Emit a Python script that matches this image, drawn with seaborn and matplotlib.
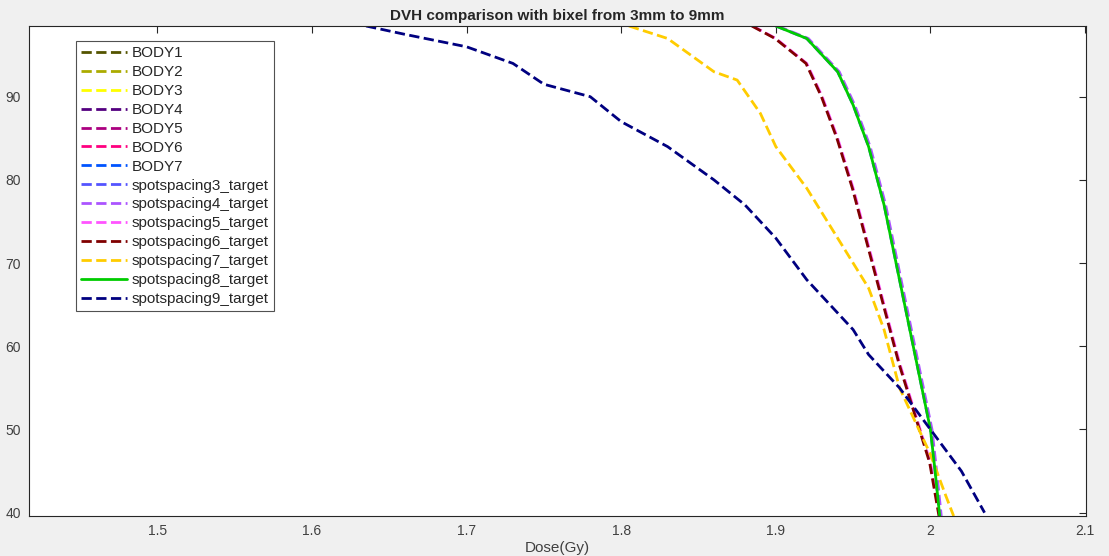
import matplotlib
matplotlib.use("Agg")
import matplotlib.pyplot as plt
import seaborn as sns
import pandas as pd

sns.set_style("white")
plt.rcParams['font.family'] = ['Liberation Sans', 'DejaVu Sans']

names = ["BODY1","BODY2","BODY3","BODY4","BODY5","BODY6","BODY7",
         "spotspacing3_target","spotspacing4_target","spotspacing5_target",
         "spotspacing6_target","spotspacing7_target","spotspacing8_target","spotspacing9_target"]
colors = [(0.33,0.33,0),(0.67,0.67,0),(1,1,0),(0.33,0,0.5),(0.67,0,0.5),(1,0,0.5),(0,0.33,1),
          (0.33,0.33,1),(0.67,0.33,1),(1,0.33,1),(0.5,0,0),(1,0.8,0),(0,0.8,0),(0,0,0.5)]

d_a = [1.90,1.92,1.94,1.95,1.96,1.97,1.98,1.99,2.0,2.003,2.006]
v_a = [98.5,97,93,89,84,77,68,59,50,45,39.6]
d_b = [1.885,1.90,1.92,1.93,1.94,1.95,1.96,1.97,1.98,1.99,2.0,2.006]
v_b = [98.5,97,94,90,85,79,72,65,58,52,46,39.6]
d_7 = [1.805,1.83,1.86,1.875,1.89,1.90,1.92,1.94,1.96,1.97,1.98,1.99,2.0,2.01,2.015]
v_7 = [98.5,97,93,92,88,84,79,73,67,62,55,51,47,42,39.6]
d_9 = [1.635,1.66,1.70,1.73,1.75,1.78,1.80,1.83,1.86,1.88,1.90,1.92,1.95,1.96,1.98,2.0,2.02,2.035]
v_9 = [98.5,97.5,96,94,91.5,90,87,84,80,77,73,68,62,59,55,50,45,40]

series = {n: ([], []) for n in names[:7]}
series["spotspacing3_target"] = (d_a, v_a)
series["spotspacing4_target"] = ([x + 0.001 for x in d_a], v_a)
series["spotspacing5_target"] = (d_b, v_b)
series["spotspacing6_target"] = ([x - 0.0005 for x in d_b], v_b)
series["spotspacing7_target"] = (d_7, v_7)
series["spotspacing8_target"] = (d_a, v_a)
series["spotspacing9_target"] = (d_9, v_9)

fig = plt.figure(figsize=(11.09, 5.56), dpi=100, facecolor="#f0f0f0")
ax = fig.add_axes([29/1109, 40/556, 1057/1109, 490/556])
for n, c in zip(names, colors):
    x, y = series[n]
    df = pd.DataFrame({"x": x, "y": y})
    ls = "-" if n == "spotspacing8_target" else "--"
    if len(df):
        sns.lineplot(data=df, x="x", y="y", ax=ax, color=c, lw=2, linestyle=ls, label=n, sort=False)
    else:
        ax.plot([], [], color=c, lw=2, linestyle=ls, label=n)

ax.set_xlim(1.417, 2.1006)
ax.set_ylim(39.6, 98.5)
ax.set_xticks([1.5,1.6,1.7,1.8,1.9,2.0,2.1])
ax.set_xticklabels(["1.5","1.6","1.7","1.8","1.9","2","2.1"])
ax.set_yticks([40,50,60,70,80,90])
ax.tick_params(direction="in", top=True, right=True, labelsize=10, colors="#262626", length=5)
ax.tick_params(axis="both", pad=6, labelcolor="#404040")
for s in ax.spines.values():
    s.set_color("#262626"); s.set_linewidth(0.8)
ax.set_xlabel("Dose(Gy)", fontsize=11, color="#404040", labelpad=2)
ax.set_ylabel("")
ax.set_title("DVH comparison with bixel from 3mm to 9mm", fontsize=11, fontweight="bold", pad=4)
leg = ax.legend(loc="upper left", bbox_to_anchor=(76/1109, 1-41/556), bbox_transform=fig.transFigure,
                fontsize=11, frameon=True, fancybox=False, borderpad=0.35, labelspacing=0.32,
                handlelength=3.0, handletextpad=0.3, borderaxespad=0)
leg.get_frame().set_edgecolor("#262626")
leg.get_frame().set_linewidth(0.8)
fig.savefig("out.png", dpi=100, facecolor=fig.get_facecolor())
